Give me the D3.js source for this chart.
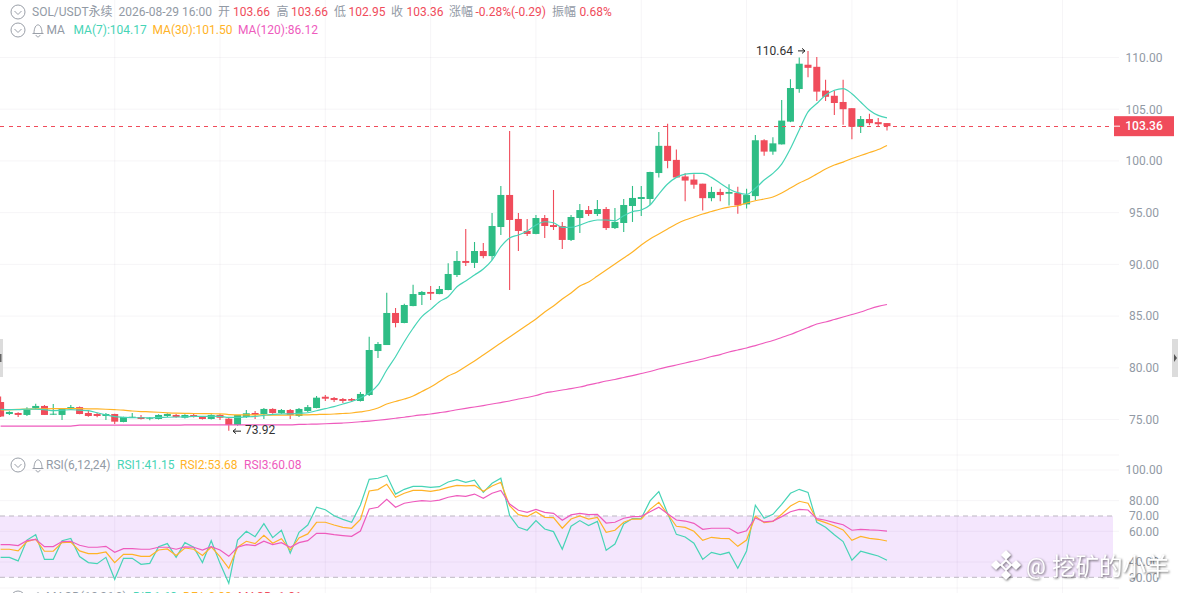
<!DOCTYPE html>
<html>
<head>
<meta charset="utf-8">
<script src="https://cdn.jsdelivr.net/npm/d3@7/dist/d3.min.js"></script>
<style>
    html, body { margin: 0; padding: 0; background: #fff; overflow: hidden; }
    svg { display: block; }
    text { font-family: Roboto, "Noto Sans CJK SC", sans-serif; font-size: 12px; }
</style>
</head>
<body>
<script>
const w = 1178;
const h = 593;

// candles, oldest first
const opens = [76.69,75.53,75.63,75.44,76.11,76.31,75.50,75.44,76.11,76.20,75.63,75.53,75.34,75.53,74.76,75.21,75.24,75.08,75.05,75.34,
    75.44,75.17,75.44,75.24,75.05,75.44,75.08,74.47,75.24,75.63,75.53,76.02,75.63,75.92,75.34,75.82,76.11,77.20,77.08,76.98,
    76.98,76.79,77.37,81.62,82.20,85.30,84.33,85.97,87.04,87.33,87.13,87.52,88.97,90.33,90.14,91.29,90.80,93.61,96.71,94.39,
    93.23,92.94,94.48,93.80,93.71,92.36,94.48,95.25,94.87,95.35,93.51,94.00,95.64,96.32,96.32,98.83,101.46,100.10,98.50,98.20,
    97.80,96.40,97.00,96.83,96.90,95.80,96.60,102.00,100.90,101.60,103.80,106.95,109.30,109.10,106.80,106.30,105.70,105.10,103.30,104.05,
    103.75,103.66];
const closes = [75.29,75.73,75.44,75.95,76.31,75.44,75.56,76.04,76.20,75.53,75.34,75.34,75.53,74.79,75.24,75.27,75.05,75.17,75.44,75.53,
    75.24,75.44,75.34,75.05,75.44,75.17,74.47,75.44,75.60,75.44,76.02,75.63,75.92,75.44,76.02,76.20,77.11,77.01,76.88,76.79,
    76.82,77.47,81.72,82.30,85.30,84.33,86.07,87.13,87.33,87.16,87.62,89.07,90.33,90.14,91.29,90.80,93.71,96.71,94.29,93.23,
    92.94,94.48,93.71,93.61,92.36,94.58,95.25,94.87,95.35,93.51,94.10,95.74,96.42,96.51,98.93,101.46,100.00,98.40,98.10,97.70,
    96.40,97.00,96.70,97.00,95.70,96.70,102.00,100.90,101.70,103.90,107.05,109.40,109.00,106.70,106.20,105.60,105.00,103.30,104.05,103.65,
    103.55,103.36];
const highs = [77.22,75.80,75.70,76.18,76.53,76.40,76.50,76.11,76.40,76.25,75.92,75.63,75.63,75.56,75.27,75.63,75.44,75.24,75.50,75.60,
    75.53,75.50,75.60,75.27,75.50,75.53,75.20,75.44,75.92,75.82,76.11,76.08,76.02,76.02,76.11,76.40,77.27,77.37,77.18,77.08,
    77.08,77.66,83.00,82.49,87.26,85.78,86.20,88.03,87.42,87.91,87.91,90.10,91.29,93.42,92.16,92.06,94.97,97.58,102.90,94.97,
    94.39,94.77,94.77,97.19,94.10,94.77,95.84,95.64,96.22,95.54,95.45,96.32,97.58,97.58,98.95,102.80,103.60,101.10,98.80,98.70,
    97.80,97.50,97.30,97.75,97.50,97.30,102.50,102.10,102.30,105.90,107.90,110.00,110.64,110.05,107.85,106.80,107.85,105.10,104.35,104.55,
    104.15,103.66];
const lows = [75.24,75.44,75.24,75.34,76.00,75.44,75.44,74.95,76.00,75.50,75.27,75.21,74.95,74.56,74.73,75.15,75.00,74.92,75.00,75.24,
    75.17,75.10,75.20,75.00,75.00,74.95,73.92,74.40,75.15,75.05,75.05,75.55,75.53,75.05,75.24,75.73,76.08,76.79,76.69,76.60,
    76.70,76.75,77.27,80.95,82.20,83.91,84.30,85.95,86.07,86.55,87.10,87.50,88.78,89.84,89.65,90.60,90.42,92.84,87.52,91.29,
    92.74,92.90,92.55,93.32,91.48,92.26,93.03,94.68,94.68,93.32,93.42,93.13,94.10,94.68,95.74,98.40,99.30,98.40,96.10,97.30,
    95.20,96.10,96.10,95.70,94.90,95.40,96.20,100.50,100.60,101.60,103.75,106.60,108.10,105.80,105.80,104.45,103.50,102.10,102.70,103.45,
    103.30,102.95];

const ma7 = [75.97,75.95,75.95,76.00,76.00,75.95,75.85,75.90,75.95,75.90,75.85,75.65,75.45,75.27,75.21,75.17,75.17,75.17,75.20,75.22,
    75.24,75.25,75.30,75.30,75.32,75.30,75.20,75.20,75.25,75.30,75.40,75.50,75.55,75.55,75.60,75.65,75.85,76.05,76.25,76.50,
    76.74,77.08,77.56,78.34,79.79,81.07,82.52,83.82,84.94,85.65,86.39,86.87,87.84,88.39,88.97,89.55,90.42,91.71,92.55,92.84,
    93.23,93.80,94.12,94.02,93.58,93.58,93.80,94.12,94.29,94.29,94.22,94.70,95.09,95.25,95.74,96.80,97.77,98.41,98.73,98.80,
    98.80,98.41,97.84,97.29,96.93,96.77,97.35,98.15,98.80,99.70,101.20,103.00,104.74,105.55,106.35,106.83,107.00,106.50,105.70,104.90,
    104.40,104.17];
const ma30 = [75.92,75.94,75.97,76.00,76.02,76.03,76.05,76.06,76.06,76.05,76.03,76.02,75.99,75.95,75.90,75.82,75.77,75.74,75.70,75.65,
    75.61,75.59,75.58,75.57,75.56,75.55,75.48,75.44,75.44,75.44,75.44,75.42,75.43,75.43,75.44,75.45,75.48,75.50,75.53,75.58,
    75.63,75.73,75.87,76.11,76.50,76.74,76.98,77.27,77.71,78.14,78.67,79.20,79.59,80.12,80.66,81.24,81.82,82.40,82.98,83.56,
    84.14,84.72,85.39,85.97,86.65,87.23,87.91,88.29,88.87,89.45,90.03,90.61,91.19,91.87,92.45,92.93,93.42,93.90,94.29,94.58,
    94.87,95.11,95.35,95.54,95.67,95.93,96.15,96.32,96.51,96.90,97.38,97.87,98.25,98.73,99.22,99.60,99.89,100.23,100.52,100.81,
    101.10,101.50];
const ma120 = [74.36,74.36,74.36,74.36,74.36,74.36,74.36,74.36,74.36,74.45,74.45,74.45,74.45,74.45,74.45,74.45,74.45,74.45,74.45,74.45,
    74.45,74.48,74.48,74.48,74.48,74.48,74.48,74.48,74.48,74.48,74.48,74.48,74.48,74.48,74.52,74.54,74.56,74.59,74.62,74.66,
    74.71,74.78,74.85,74.93,75.02,75.12,75.22,75.34,75.44,75.53,75.66,75.79,75.94,76.08,76.21,76.35,76.50,76.64,76.79,76.98,
    77.13,77.32,77.56,77.71,77.85,77.98,78.14,78.34,78.53,78.72,78.87,79.06,79.25,79.45,79.64,79.88,80.08,80.27,80.46,80.66,
    80.85,81.09,81.28,81.53,81.72,81.91,82.15,82.40,82.64,82.93,83.22,83.56,83.90,84.23,84.43,84.67,84.91,85.15,85.39,85.68,
    85.93,86.12];

const rsi1 = [43.0,43.0,40.7,54.3,57.8,41.7,41.7,53.9,55.4,43.5,39.6,38.9,43.0,28.7,42.4,42.4,38.5,39.1,50.0,52.0,
    43.0,52.6,49.6,39.6,53.9,39.1,26.1,54.3,60.0,56.5,65.0,55.9,60.7,45.7,59.3,64.1,75.7,74.1,70.2,67.8,
    65.9,77.2,93.9,94.6,96.5,84.3,87.4,89.3,89.3,88.7,89.1,92.2,93.7,92.0,93.3,85.4,91.3,94.6,70.4,62.6,
    60.7,67.0,61.5,59.8,48.3,63.3,67.0,63.7,66.5,47.6,51.7,64.8,68.3,68.5,79.8,85.9,71.7,58.0,56.3,52.2,
    41.7,46.3,44.8,46.3,35.9,47.2,77.0,68.5,71.1,77.6,84.8,87.4,85.4,65.9,62.6,57.8,53.3,41.1,47.0,45.4,
    43.9,41.15];
const rsi2 = [48.3,48.3,47.2,53.3,54.8,47.0,47.0,52.6,53.0,47.2,45.4,45.4,46.5,39.6,45.0,45.0,43.7,43.7,47.8,48.5,
    44.3,49.1,48.3,44.3,49.8,43.5,35.9,49.6,53.5,52.0,57.4,52.2,55.2,47.8,55.7,58.3,65.9,65.9,64.1,62.6,
    62.0,67.8,86.3,87.2,90.7,82.2,84.8,86.7,86.7,86.1,87.0,88.7,90.0,89.6,90.0,86.1,89.6,92.0,76.7,70.9,
    69.6,72.8,69.1,68.9,62.0,68.0,70.0,68.0,69.1,59.3,60.7,65.9,68.0,68.0,74.3,78.9,71.3,63.3,62.6,60.0,
    54.1,56.1,55.4,55.2,50.2,54.3,69.8,65.7,66.5,71.1,76.5,79.6,78.3,67.6,65.7,63.5,60.9,54.1,56.7,55.4,
    54.8,53.68];
const rsi3 = [51.3,51.3,50.7,53.9,54.8,50.0,50.0,53.3,53.5,50.9,49.6,49.6,50.2,46.3,48.7,48.7,48.3,48.3,49.6,49.6,
    48.3,49.8,49.6,47.8,50.0,47.8,43.7,49.6,51.3,50.7,53.5,51.3,52.6,49.6,52.6,53.9,58.7,58.7,57.8,57.2,
    56.7,60.2,74.6,75.7,80.9,75.7,78.3,79.3,80.0,79.6,80.4,82.2,83.3,82.8,84.3,81.5,84.8,86.7,77.8,73.7,
    72.4,74.3,72.4,71.7,67.2,70.7,71.7,70.9,71.1,65.4,65.9,68.5,69.6,69.8,72.8,75.7,71.5,67.4,66.7,65.2,
    61.3,62.0,62.0,62.0,58.7,60.4,68.7,66.1,66.7,69.6,72.8,74.3,73.9,68.3,67.2,65.7,64.3,60.7,61.3,60.9,
    60.7,60.08];

const priceTicks = [75, 80, 85, 90, 95, 100, 105, 110];
const rsiTicks = [30, 40, 60, 70, 80, 100];
const lastPrice = 103.36;

const red = "#f04c5b";
const green = "#2ebd85";
const gray = "#929aa5";
const teal = "#47d4b6";
const orange = "#ffb327";
const pink = "#ee5bbd";
const gridColor = "rgba(40,30,80,0.045)";

const svg = d3.select("body").append("svg")
    .attr("width", w)
    .attr("height", h);

const x = d3.scaleLinear().domain([0, opens.length - 1]).range([0.6, 887]);
const y = d3.scaleLinear().domain([75, 110]).range([419.5, 57.5]);
const yRsi = d3.scaleLinear().domain([30, 100]).range([577.3, 470]);
const axisX = 1113;
const index = d3.range(opens.length);

// rsi band goes under the grid
svg.append("rect")
    .attr("x", 0)
    .attr("y", yRsi(70))
    .attr("width", axisX)
    .attr("height", yRsi(30) - yRsi(70))
    .attr("fill", "#f4e6fd");

// grid
svg.append("g").selectAll("line")
    .data(d3.range(13, 122, 12))
    .join("line")
    .attr("x1", d => x(d))
    .attr("x2", d => x(d))
    .attr("y1", 0)
    .attr("y2", h)
    .attr("stroke", gridColor);

const hGrid = priceTicks.map(d => y(d)).concat(rsiTicks.filter(d => d != 30 && d != 70).map(d => yRsi(d)), [455, 588]);
svg.append("g").selectAll("line")
    .data(hGrid)
    .join("line")
    .attr("x1", 0)
    .attr("x2", 1119)
    .attr("y1", d => d)
    .attr("y2", d => d)
    .attr("stroke", gridColor);

svg.append("g").selectAll("line")
    .data([70, 30])
    .join("line")
    .attr("x1", 0)
    .attr("x2", axisX)
    .attr("y1", d => yRsi(d))
    .attr("y2", d => yRsi(d))
    .attr("stroke", "#bdb8c2")
    .attr("stroke-dasharray", "5 4");

// candles
const candle = svg.append("g").selectAll("g")
    .data(index)
    .join("g")
    .attr("fill", i => closes[i] >= opens[i] ? green : red)
    .attr("stroke", i => closes[i] >= opens[i] ? green : red);

candle.append("line")
    .attr("x1", i => x(i))
    .attr("x2", i => x(i))
    .attr("y1", i => y(highs[i]))
    .attr("y2", i => y(lows[i]))
    .attr("stroke-width", 1.1);

candle.append("rect")
    .attr("x", i => x(i) - 3.5)
    .attr("y", i => y(Math.max(opens[i], closes[i])))
    .attr("width", 7)
    .attr("height", i => Math.max(1, Math.abs(y(opens[i]) - y(closes[i]))))
    .attr("stroke", "none");

// moving averages
const maLine = d3.line()
    .x((d, i) => x(i))
    .y(d => y(d))
    .curve(d3.curveMonotoneX);

[[ma120, pink], [ma30, orange], [ma7, teal]].forEach(s => {
    svg.append("path")
        .attr("d", maLine(s[0]))
        .attr("fill", "none")
        .attr("stroke", s[1])
        .attr("stroke-width", 1.2);
});

// rsi lines
const rsiLine = d3.line()
    .x((d, i) => x(i))
    .y(d => yRsi(d));

[[rsi1, teal], [rsi2, orange], [rsi3, pink]].forEach(s => {
    svg.append("path")
        .attr("d", rsiLine(s[0]))
        .attr("fill", "none")
        .attr("stroke", s[1])
        .attr("stroke-width", 1.2);
});

// last price line
svg.append("line")
    .attr("x1", 0)
    .attr("x2", 1114)
    .attr("y1", y(lastPrice))
    .attr("y2", y(lastPrice))
    .attr("stroke", red)
    .attr("stroke-dasharray", "4 4.5")
    .attr("shape-rendering", "crispEdges");

// axes
const priceAxis = d3.axisRight(y)
    .tickValues(priceTicks)
    .tickFormat(d3.format(".2f"))
    .tickSize(0);
const rsiAxis = d3.axisRight(yRsi)
    .tickValues(rsiTicks)
    .tickFormat(d3.format(".2f"))
    .tickSize(0);

[priceAxis, rsiAxis].forEach(a => {
    const g = svg.append("g")
        .attr("transform", "translate(1144, 0)")
        .call(a);
    g.select(".domain").remove();
    g.selectAll("text")
        .attr("x", 0)
        .attr("text-anchor", "middle")
        .attr("fill", gray)
        .style("font-size", "12px")
        .style("font-family", "Roboto, sans-serif");
});

// last price tag
svg.append("rect")
    .attr("x", 1114)
    .attr("y", y(lastPrice) - 10)
    .attr("width", 60)
    .attr("height", 20)
    .attr("fill", red);
svg.append("line")
    .attr("x1", 1114)
    .attr("x2", 1120)
    .attr("y1", y(lastPrice))
    .attr("y2", y(lastPrice))
    .attr("stroke", "#fff");
svg.append("text")
    .attr("x", 1144)
    .attr("y", y(lastPrice) + 4)
    .attr("text-anchor", "middle")
    .attr("fill", "#fff")
    .attr("font-weight", 500)
    .text(lastPrice.toFixed(2));

// high / low notes
function note(txt, tx, ty) {
    svg.append("text")
        .attr("x", tx)
        .attr("y", ty)
        .attr("fill", "#333")
        .text(txt);
}
note("110.64", 756, y(110.64) + 4);
note("73.92", 245, y(73.92) + 3);

function arrow(x1, x2, ay) {
    const dir = x2 > x1 ? -1 : 1;
    svg.append("path")
        .attr("d", `M${x1},${ay}L${x2},${ay}M${x2 + dir * 3},${ay - 2.5}L${x2},${ay}L${x2 + dir * 3},${ay + 2.5}`)
        .attr("fill", "none")
        .attr("stroke", "#222");
}
arrow(798, 805, y(110.64));
arrow(241, 233, y(73.92) + 0.5);

// header texts
const headerRow1 = [
    ["SOL/USDT永续", 32, gray], ["2026-08-29 16:00", 118.5, gray],
    ["开", 218, gray], ["103.66", 233, red],
    ["高", 276.5, gray], ["103.66", 291, red],
    ["低", 334, gray], ["102.95", 348.5, red],
    ["收", 391, gray], ["103.36", 406.5, red],
    ["涨幅", 449, gray], ["-0.28%(-0.29)", 475.5, red],
    ["振幅", 552, gray], ["0.68%", 579.5, red]
];
const headerRow2 = [
    ["MA", 46.5, gray], ["MA(7):104.17", 73.5, teal],
    ["MA(30):101.50", 152.5, orange], ["MA(120):86.12", 238, pink]
];
const headerRsi = [
    ["RSI(6,12,24)", 46, gray], ["RSI1:41.15", 117, teal],
    ["RSI2:53.68", 180, orange], ["RSI3:60.08", 244, pink]
];
const headerMacd = [
    ["MACD(12,26,9)", 46, gray], ["DIF:1.63", 133, teal],
    ["DEA:0.33", 183, orange], ["MACD:-1.81", 238, red]
];

function headerRow(row, baseline) {
    svg.append("g").selectAll("text")
        .data(row)
        .join("text")
        .attr("x", d => d[1])
        .attr("y", baseline)
        .attr("fill", d => d[2])
        .text(d => d[0]);
}
headerRow(headerRow1, 16);
headerRow(headerRow2, 34);
headerRow(headerRsi, 469);
headerRow(headerMacd, 601);

function chevron(cy) {
    svg.append("circle")
        .attr("cx", 18)
        .attr("cy", cy)
        .attr("r", 7)
        .attr("fill", "#fff")
        .attr("stroke", "#9a9fa8");
    svg.append("path")
        .attr("d", `M14.5,${cy - 1}L18,${cy + 2.5}L21.5,${cy - 1}`)
        .attr("fill", "none")
        .attr("stroke", "#9a9fa8");
}
function bell(cy) {
    svg.append("path")
        .attr("d", `M32.5,${cy + 3.5}L43.5,${cy + 3.5}M34,${cy + 3.5}C34,${cy - 8} 42,${cy - 8} 42,${cy + 3.5}M36,${cy + 5}C36.5,${cy + 7.5} 39.5,${cy + 7.5} 40,${cy + 5}`)
        .attr("fill", "none")
        .attr("stroke", "#9a9fa8");
}
[12, 30, 465, 598].forEach(chevron);
[30, 465, 598].forEach(bell);

// side handles
svg.append("rect").attr("x", 0).attr("y", 339).attr("width", 3).attr("height", 38).attr("fill", "#dcdcdc");
svg.append("rect").attr("x", 1172).attr("y", 339).attr("width", 6).attr("height", 38).attr("fill", "#dcdcdc");
svg.append("path").attr("d", "M1174,354L1177,358L1174,362Z").attr("fill", "#555");
svg.append("rect").attr("x", 0).attr("y", 354).attr("width", 1.5).attr("height", 8).attr("fill", "#666");

// watermark
const wm = svg.append("g").style("filter", "drop-shadow(1px 1px 1.2px rgba(0,0,0,0.55))");
[[1006, 555], [996, 565], [1016, 565], [1006, 575]].forEach(p => {
    wm.append("rect")
        .attr("x", p[0] - 3.6)
        .attr("y", p[1] - 3.6)
        .attr("width", 7.2)
        .attr("height", 7.2)
        .attr("fill", "#fff")
        .attr("transform", `rotate(45 ${p[0]} ${p[1]})`);
});
wm.append("rect")
    .attr("x", 1002.5)
    .attr("y", 561.5)
    .attr("width", 7)
    .attr("height", 7)
    .attr("fill", "none")
    .attr("stroke", "#fff")
    .attr("stroke-width", 2)
    .attr("transform", "rotate(45 1006 565)");
wm.append("text")
    .attr("x", 1026)
    .attr("y", 574)
    .attr("fill", "#fff")
    .style("font-size", "22px")
    .text("@");
wm.append("text")
    .attr("x", 1052)
    .attr("y", 575)
    .attr("fill", "#fff")
    .style("font-size", "23.5px")
    .text("挖矿的小羊");
</script>
</body>
</html>
